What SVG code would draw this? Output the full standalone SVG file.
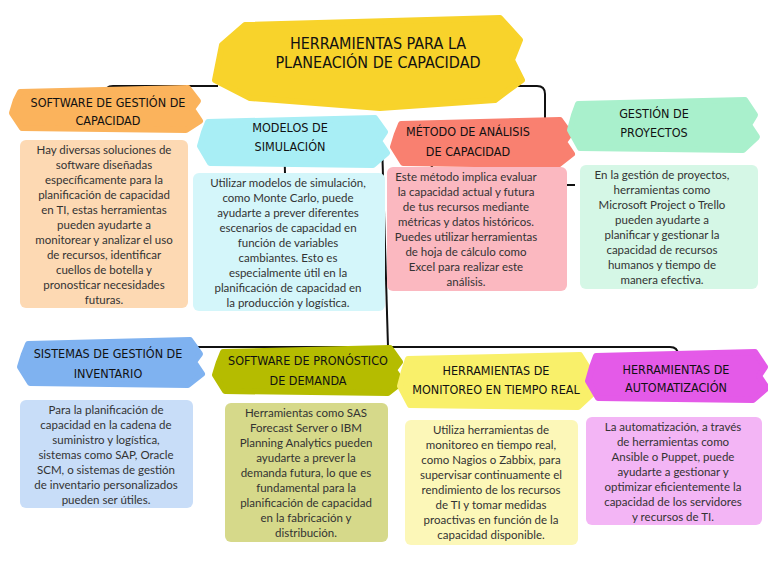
<svg xmlns="http://www.w3.org/2000/svg" width="768" height="576" viewBox="0 0 768 576">
<style>
.lbl{font-family:"DejaVu Sans Condensed","DejaVu Sans",sans-serif;font-size:12.5px;fill:#111;text-anchor:middle}
.ttl{font-family:"DejaVu Sans Condensed","DejaVu Sans",sans-serif;font-size:16px;fill:#111;text-anchor:middle}
.bd{font-family:Lato,"Open Sans",sans-serif;font-size:11.5px;fill:#333;text-anchor:middle}
.br{stroke-linejoin:round;stroke-width:6}
.con{fill:none;stroke:#111;stroke-width:2}
</style>
<rect width="768" height="576" fill="#fff"/>
<g id="connectors">
<path class="con" d="M218,86 H113 Q105,86 105,94 V120"/>
<path class="con" d="M518,86 H537 Q545,86 545,94 V176 Q545,185 555,185 H575"/>
<path class="con" d="M284,132 L287,257"/>
<path class="con" d="M421,142 L471,255"/>
<path class="con" d="M382,142 L388,347" stroke-width="1.3"/>
<path class="con" d="M110,355 V355 Q110,347 118,347 H670 Q678,347 678,355 V374"/>
</g>
<g id="root">
<path class="br" fill="#F8D32B" stroke="#F8D32B" d="M245,25 L500,18 L520,40 L512,60 L522,80 L495,100 L380,108 L250,98 L215,80 L222,45 Z"/>
<text class="ttl" x="378" y="49">HERRAMIENTAS PARA LA</text>
<text class="ttl" x="378" y="68">PLANEACIÓN DE CAPACIDAD</text>
</g>
<g id="n1">
<path class="br" fill="#FBB35C" stroke="#FBB35C" d="M20,92 L188,88 L198,101 L192,109 L200,121 L186,130 L22,128 L12,113 L16,100 Z"/>
<text class="lbl" x="108" y="107">SOFTWARE DE GESTIÓN DE</text><text class="lbl" x="108" y="125">CAPACIDAD</text>
<rect x="20" y="140" width="168" height="168" rx="6" fill="#FDD9B3"/>
<text class="bd" x="104"><tspan x="104" y="154">Hay diversas soluciones de</tspan><tspan x="104" y="169">software diseñadas</tspan><tspan x="104" y="184">específicamente para la</tspan><tspan x="104" y="199">planificación de capacidad</tspan><tspan x="104" y="214">en TI, estas herramientas</tspan><tspan x="104" y="229">pueden ayudarte a</tspan><tspan x="104" y="244">monitorear y analizar el uso</tspan><tspan x="104" y="259">de recursos, identificar</tspan><tspan x="104" y="274">cuellos de botella y</tspan><tspan x="104" y="289">pronosticar necesidades</tspan><tspan x="104" y="304">futuras.</tspan></text>
</g>
<g id="n2">
<path class="br" fill="#A8EEF5" stroke="#A8EEF5" d="M208,122 L375,118 L385,132 L379,141 L387,153 L373,165 L210,163 L200,146 L204,132 Z"/>
<text class="lbl" x="290" y="132">MODELOS DE</text><text class="lbl" x="290" y="151">SIMULACIÓN</text>
<rect x="193" y="173" width="192" height="138" rx="6" fill="#D4F6FA"/>
<text class="bd"><tspan x="288" y="187">Utilizar modelos de simulación,</tspan><tspan x="288" y="202">como Monte Carlo, puede</tspan><tspan x="288" y="217">ayudarte a prever diferentes</tspan><tspan x="288" y="232">escenarios de capacidad en</tspan><tspan x="288" y="247">función de variables</tspan><tspan x="288" y="262">cambiantes. Esto es</tspan><tspan x="288" y="277">especialmente útil en la</tspan><tspan x="288" y="292">planificación de capacidad en</tspan><tspan x="288" y="307">la producción y logística.</tspan></text>
</g>
<g id="n3">
<path class="br" fill="#F98070" stroke="#F98070" d="M401,124 L560,120 L570,134 L564,142 L572,154 L558,165 L403,163 L393,147 L397,134 Z"/>
<text class="lbl" x="468" y="136">MÉTODO DE ANÁLISIS</text><text class="lbl" x="468" y="156">DE CAPACIDAD</text>
<rect x="387" y="167" width="180" height="124" rx="6" fill="#FBB8C0"/>
<text class="bd"><tspan x="466" y="181">Este método implica evaluar</tspan><tspan x="466" y="196">la capacidad actual y futura</tspan><tspan x="466" y="211">de tus recursos mediante</tspan><tspan x="466" y="226">métricas y datos históricos.</tspan><tspan x="466" y="241">Puedes utilizar herramientas</tspan><tspan x="466" y="256">de hoja de cálculo como</tspan><tspan x="466" y="271">Excel para realizar este</tspan><tspan x="466" y="286">análisis.</tspan></text>
</g>
<g id="n4">
<path class="br" fill="#A9F0CC" stroke="#A9F0CC" d="M578,104 L745,100 L755,115 L749,125 L757,137 L743,150 L580,148 L570,130 L574,115 Z"/>
<text class="lbl" x="654" y="118">GESTIÓN DE</text><text class="lbl" x="654" y="137">PROYECTOS</text>
<rect x="580" y="165" width="178" height="124" rx="6" fill="#D5F7E6"/>
<text class="bd"><tspan x="662" y="179">En la gestión de proyectos,</tspan><tspan x="662" y="194">herramientas como</tspan><tspan x="662" y="209">Microsoft Project o Trello</tspan><tspan x="662" y="224">pueden ayudarte a</tspan><tspan x="662" y="239">planificar y gestionar la</tspan><tspan x="662" y="254">capacidad de recursos</tspan><tspan x="662" y="269">humanos y tiempo de</tspan><tspan x="662" y="284">manera efectiva.</tspan></text>
</g>
<g id="n5">
<path class="br" fill="#7FB2F0" stroke="#7FB2F0" d="M28,344 L190,340 L200,354 L194,362 L202,374 L188,385 L30,383 L20,367 L24,354 Z"/>
<text class="lbl" x="108" y="358">SISTEMAS DE GESTIÓN DE</text><text class="lbl" x="108" y="378">INVENTARIO</text>
<rect x="20" y="400" width="173" height="108" rx="6" fill="#C8DDF8"/>
<text class="bd"><tspan x="106" y="414">Para la planificación de</tspan><tspan x="106" y="429">capacidad en la cadena de</tspan><tspan x="106" y="444">suministro y logística,</tspan><tspan x="106" y="459">sistemas como SAP, Oracle</tspan><tspan x="106" y="474">SCM, o sistemas de gestión</tspan><tspan x="106" y="489">de inventario personalizados</tspan><tspan x="106" y="504">pueden ser útiles.</tspan></text>
</g>
<g id="n6">
<path class="br" fill="#B5BC00" stroke="#B5BC00" d="M223,352 L390,348 L400,362 L394,370 L402,382 L388,393 L225,391 L215,375 L219,362 Z"/>
<text class="lbl" x="308" y="365">SOFTWARE DE PRONÓSTICO</text><text class="lbl" x="308" y="385">DE DEMANDA</text>
<rect x="225" y="403" width="163" height="139" rx="6" fill="#D6D98A"/>
<text class="bd"><tspan x="306" y="417">Herramientas como SAS</tspan><tspan x="306" y="432">Forecast Server o IBM</tspan><tspan x="306" y="447">Planning Analytics pueden</tspan><tspan x="306" y="462">ayudarte a prever la</tspan><tspan x="306" y="477">demanda futura, lo que es</tspan><tspan x="306" y="492">fundamental para la</tspan><tspan x="306" y="507">planificación de capacidad</tspan><tspan x="306" y="522">en la fabricación y</tspan><tspan x="306" y="537">distribución.</tspan></text>
</g>
<g id="n7">
<path class="br" fill="#F9F06A" stroke="#F9F06A" d="M408,359 L580,355 L590,371 L584,380 L592,394 L578,407 L410,405 L400,386 L404,371 Z"/>
<text class="lbl" x="496" y="375">HERRAMIENTAS DE</text><text class="lbl" x="496" y="394">MONITOREO EN TIEMPO REAL</text>
<rect x="405" y="420" width="173" height="125" rx="6" fill="#FCF7B8"/>
<text class="bd"><tspan x="491" y="434">Utiliza herramientas de</tspan><tspan x="491" y="449">monitoreo en tiempo real,</tspan><tspan x="491" y="464">como Nagios o Zabbix, para</tspan><tspan x="491" y="479">supervisar continuamente el</tspan><tspan x="491" y="494">rendimiento de los recursos</tspan><tspan x="491" y="509">de TI y tomar medidas</tspan><tspan x="491" y="524">proactivas en función de la</tspan><tspan x="491" y="539">capacidad disponible.</tspan></text>
</g>
<g id="n8">
<path class="br" fill="#E45AE8" stroke="#E45AE8" d="M596,356 L755,352 L765,367 L759,376 L767,388 L753,400 L598,398 L588,381 L592,367 Z"/>
<text class="lbl" x="676" y="374">HERRAMIENTAS DE</text><text class="lbl" x="676" y="392">AUTOMATIZACIÓN</text>
<rect x="586" y="417" width="176" height="108" rx="6" fill="#F3B5F5"/>
<text class="bd"><tspan x="673" y="431">La automatización, a través</tspan><tspan x="673" y="446">de herramientas como</tspan><tspan x="673" y="461">Ansible o Puppet, puede</tspan><tspan x="673" y="476">ayudarte a gestionar y</tspan><tspan x="673" y="491">optimizar eficientemente la</tspan><tspan x="673" y="506">capacidad de los servidores</tspan><tspan x="673" y="521">y recursos de TI.</tspan></text>
</g>
</svg>
